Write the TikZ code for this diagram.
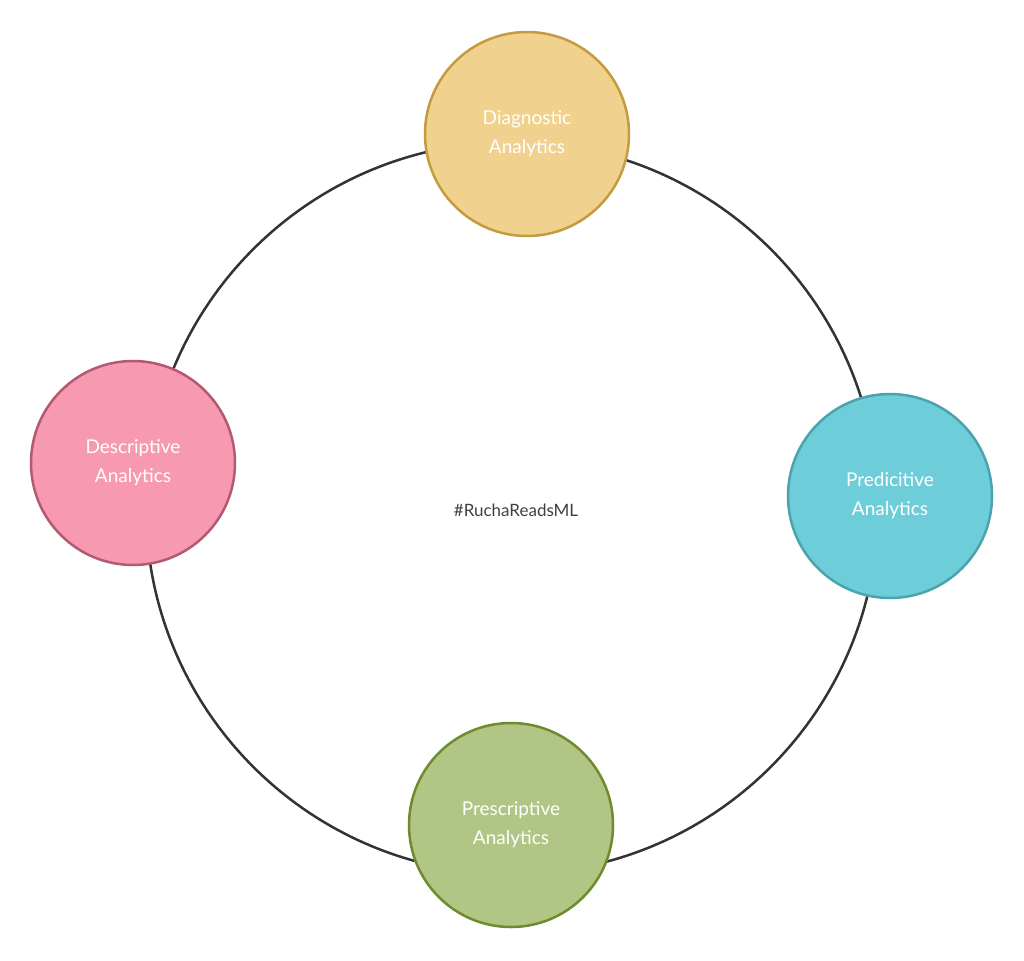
\documentclass[tikz,border=0pt]{standalone}
\usepackage{fontspec}
\setmainfont{Lato}
\begin{document}
\begin{tikzpicture}[x=1pt,y=-1pt,
  bub/.style={circle,minimum size=204pt,line width=2.5pt,text=white,align=center,font=\fontsize{19}{29}\selectfont,inner sep=0pt}]
\useasboundingbox (0,0) rectangle (1024,960);
\fill[white] (0,0) rectangle (1024,960);
\node[circle,minimum size=732pt,draw=black!80,line width=2.5pt,inner sep=0pt] (ring) at (512,508) {};
\node[font=\fontsize{17}{20}\selectfont,text=black!75] (c) at (516,510) {\#RuchaReadsML};
\node[bub,fill={rgb,255:red,240;green,209;blue,142},draw={rgb,255:red,196;green,155;blue,62}] (d) at (527,134) {Diagnostic\\Analytics};
\node[bub,fill={rgb,255:red,247;green,153;blue,176},draw={rgb,255:red,179;green,90;blue,114}] (a) at (133,463) {Descriptive\\Analytics};
\node[bub,fill={rgb,255:red,109;green,205;blue,217},draw={rgb,255:red,75;green,163;blue,174}] (p) at (890,496) {Predicitive\\Analytics};
\node[bub,fill={rgb,255:red,177;green,197;blue,133},draw={rgb,255:red,110;green,140;blue,46}] (s) at (511,825) {Prescriptive\\Analytics};
\end{tikzpicture}
\end{document}
